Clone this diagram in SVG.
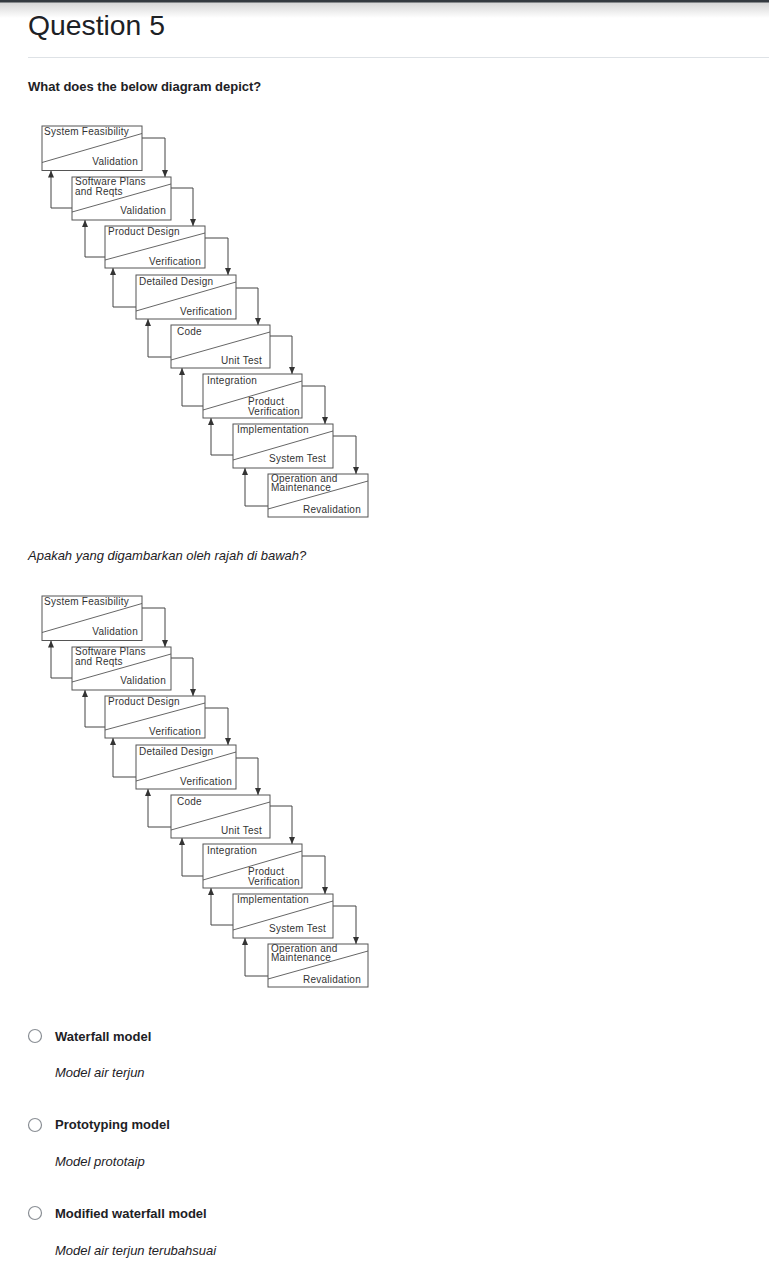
<svg xmlns="http://www.w3.org/2000/svg" width="769" height="1284" viewBox="0 0 769 1284">
<defs>
<linearGradient id="topShade" x1="0" y1="0" x2="0" y2="1">
<stop offset="0" stop-color="#d4d4d4"/>
<stop offset="1" stop-color="#ffffff"/>
</linearGradient>
<marker id="ah" viewBox="0 0 7 6" refX="7" refY="3" markerWidth="7" markerHeight="6" markerUnits="userSpaceOnUse" orient="auto">
<path d="M0,0 L7,3 L0,6 z" fill="#333"/>
</marker>
</defs>
<style>
.box{fill:#fff;stroke:#555;stroke-width:1}
.diag{stroke:#555;stroke-width:0.9}
.conn{fill:none;stroke:#444;stroke-width:1;marker-end:url(#ah)}
.lbl{font-family:"Liberation Sans",Arial,sans-serif;font-size:10px;letter-spacing:0.25px;fill:#333}
.end{text-anchor:end}
.page{font-family:"Liberation Sans",Arial,sans-serif;fill:#1d2125}
.q{font-size:13px;font-weight:bold}
.it{font-size:13px;font-style:italic}
.radio{fill:#fff;stroke:#8a8f95;stroke-width:1.2}
</style>
<rect x="0" y="0" width="769" height="1284" fill="#fff"/>
<rect x="0" y="2" width="769" height="16" fill="url(#topShade)"/>
<rect x="0" y="0" width="769" height="2.5" fill="#343a40"/>
<text class="page" x="28" y="35" font-family="'Open Sans','Noto Sans',sans-serif" font-size="28" textLength="137" lengthAdjust="spacingAndGlyphs">Question 5</text>
<line x1="28" y1="57.5" x2="769" y2="57.5" stroke="#dee2e6" stroke-width="1"/>
<text class="page q" x="28" y="91">What does the below diagram depict?</text>

<g id="diagram1">
<g id="d1-connectors">
<path class="conn" d="M142,138 H165 V177"/>
<path class="conn" d="M171,188 H193 V226"/>
<path class="conn" d="M205,238 H228 V275"/>
<path class="conn" d="M236,288 H258 V325"/>
<path class="conn" d="M270,336 H292 V374"/>
<path class="conn" d="M302,386 H325 V424"/>
<path class="conn" d="M333,436 H356 V474"/>
<path class="conn" d="M72,208 H51 V170.5"/>
<path class="conn" d="M105,257 H85 V220"/>
<path class="conn" d="M136,307 H113 V268"/>
<path class="conn" d="M171,357 H148 V319"/>
<path class="conn" d="M203,406 H182 V368"/>
<path class="conn" d="M233,455 H211 V418"/>
<path class="conn" d="M268,506 H245 V468"/>
</g>
<g id="d1-n1"><rect class="box" x="42" y="126" width="100" height="44.5"/><line class="diag" x1="42" y1="162.5" x2="142" y2="133.5"/><text class="lbl" x="44" y="135">System Feasibility</text><text class="lbl end" x="138" y="165">Validation</text></g>
<g id="d1-n2"><rect class="box" x="72" y="177" width="99" height="43"/><line class="diag" x1="72" y1="212" x2="171" y2="184"/><text class="lbl" x="75" y="185">Software Plans</text><text class="lbl" x="75" y="195">and Reqts</text><text class="lbl end" x="166" y="214">Validation</text></g>
<g id="d1-n3"><rect class="box" x="105" y="226" width="100" height="42"/><line class="diag" x1="105" y1="260" x2="205" y2="233"/><text class="lbl" x="108" y="235">Product Design</text><text class="lbl end" x="201" y="265">Verification</text></g>
<g id="d1-n4"><rect class="box" x="136" y="275" width="100" height="44"/><line class="diag" x1="136" y1="311" x2="236" y2="282"/><text class="lbl" x="139" y="285">Detailed Design</text><text class="lbl end" x="232" y="315">Verification</text></g>
<g id="d1-n5"><rect class="box" x="171" y="325" width="99" height="43"/><line class="diag" x1="171" y1="360" x2="270" y2="332"/><text class="lbl" x="177" y="335">Code</text><text class="lbl end" x="262" y="364">Unit Test</text></g>
<g id="d1-n6"><rect class="box" x="203" y="374" width="99" height="44"/><line class="diag" x1="203" y1="410" x2="302" y2="381"/><text class="lbl" x="207" y="384">Integration</text><text class="lbl" x="248" y="405">Product</text><text class="lbl" x="248" y="415">Verification</text></g>
<g id="d1-n7"><rect class="box" x="233" y="424" width="100" height="44"/><line class="diag" x1="233" y1="460" x2="333" y2="431"/><text class="lbl" x="237" y="433">Implementation</text><text class="lbl end" x="326" y="462">System Test</text></g>
<g id="d1-n8"><rect class="box" x="268" y="474" width="100" height="43"/><line class="diag" x1="268" y1="509" x2="368" y2="481"/><text class="lbl" x="271" y="482">Operation and</text><text class="lbl" x="271" y="491">Maintenance</text><text class="lbl end" x="361" y="513">Revalidation</text></g>
</g>

<text class="page it" x="28" y="560">Apakah yang digambarkan oleh rajah di bawah?</text>

<g id="diagram2" transform="translate(0,470)">
<g id="d2-connectors">
<path class="conn" d="M142,138 H165 V177"/>
<path class="conn" d="M171,188 H193 V226"/>
<path class="conn" d="M205,238 H228 V275"/>
<path class="conn" d="M236,288 H258 V325"/>
<path class="conn" d="M270,336 H292 V374"/>
<path class="conn" d="M302,386 H325 V424"/>
<path class="conn" d="M333,436 H356 V474"/>
<path class="conn" d="M72,208 H51 V170.5"/>
<path class="conn" d="M105,257 H85 V220"/>
<path class="conn" d="M136,307 H113 V268"/>
<path class="conn" d="M171,357 H148 V319"/>
<path class="conn" d="M203,406 H182 V368"/>
<path class="conn" d="M233,455 H211 V418"/>
<path class="conn" d="M268,506 H245 V468"/>
</g>
<g id="d2-n1"><rect class="box" x="42" y="126" width="100" height="44.5"/><line class="diag" x1="42" y1="162.5" x2="142" y2="133.5"/><text class="lbl" x="44" y="135">System Feasibility</text><text class="lbl end" x="138" y="165">Validation</text></g>
<g id="d2-n2"><rect class="box" x="72" y="177" width="99" height="43"/><line class="diag" x1="72" y1="212" x2="171" y2="184"/><text class="lbl" x="75" y="185">Software Plans</text><text class="lbl" x="75" y="195">and Reqts</text><text class="lbl end" x="166" y="214">Validation</text></g>
<g id="d2-n3"><rect class="box" x="105" y="226" width="100" height="42"/><line class="diag" x1="105" y1="260" x2="205" y2="233"/><text class="lbl" x="108" y="235">Product Design</text><text class="lbl end" x="201" y="265">Verification</text></g>
<g id="d2-n4"><rect class="box" x="136" y="275" width="100" height="44"/><line class="diag" x1="136" y1="311" x2="236" y2="282"/><text class="lbl" x="139" y="285">Detailed Design</text><text class="lbl end" x="232" y="315">Verification</text></g>
<g id="d2-n5"><rect class="box" x="171" y="325" width="99" height="43"/><line class="diag" x1="171" y1="360" x2="270" y2="332"/><text class="lbl" x="177" y="335">Code</text><text class="lbl end" x="262" y="364">Unit Test</text></g>
<g id="d2-n6"><rect class="box" x="203" y="374" width="99" height="44"/><line class="diag" x1="203" y1="410" x2="302" y2="381"/><text class="lbl" x="207" y="384">Integration</text><text class="lbl" x="248" y="405">Product</text><text class="lbl" x="248" y="415">Verification</text></g>
<g id="d2-n7"><rect class="box" x="233" y="424" width="100" height="44"/><line class="diag" x1="233" y1="460" x2="333" y2="431"/><text class="lbl" x="237" y="433">Implementation</text><text class="lbl end" x="326" y="462">System Test</text></g>
<g id="d2-n8"><rect class="box" x="268" y="474" width="100" height="43"/><line class="diag" x1="268" y1="509" x2="368" y2="481"/><text class="lbl" x="271" y="482">Operation and</text><text class="lbl" x="271" y="491">Maintenance</text><text class="lbl end" x="361" y="513">Revalidation</text></g>
</g>

<g id="options">
<g id="opt1"><circle class="radio" cx="35" cy="1036" r="6.5"/><text class="page q" x="55" y="1041">Waterfall model</text><text class="page it" x="55" y="1077">Model air terjun</text></g>
<g id="opt2"><circle class="radio" cx="35" cy="1125" r="6.5"/><text class="page q" x="55" y="1129">Prototyping model</text><text class="page it" x="55" y="1166">Model prototaip</text></g>
<g id="opt3"><circle class="radio" cx="35" cy="1213" r="6.5"/><text class="page q" x="55" y="1218">Modified waterfall model</text><text class="page it" x="55" y="1255">Model air terjun terubahsuai</text></g>
</g>
</svg>
